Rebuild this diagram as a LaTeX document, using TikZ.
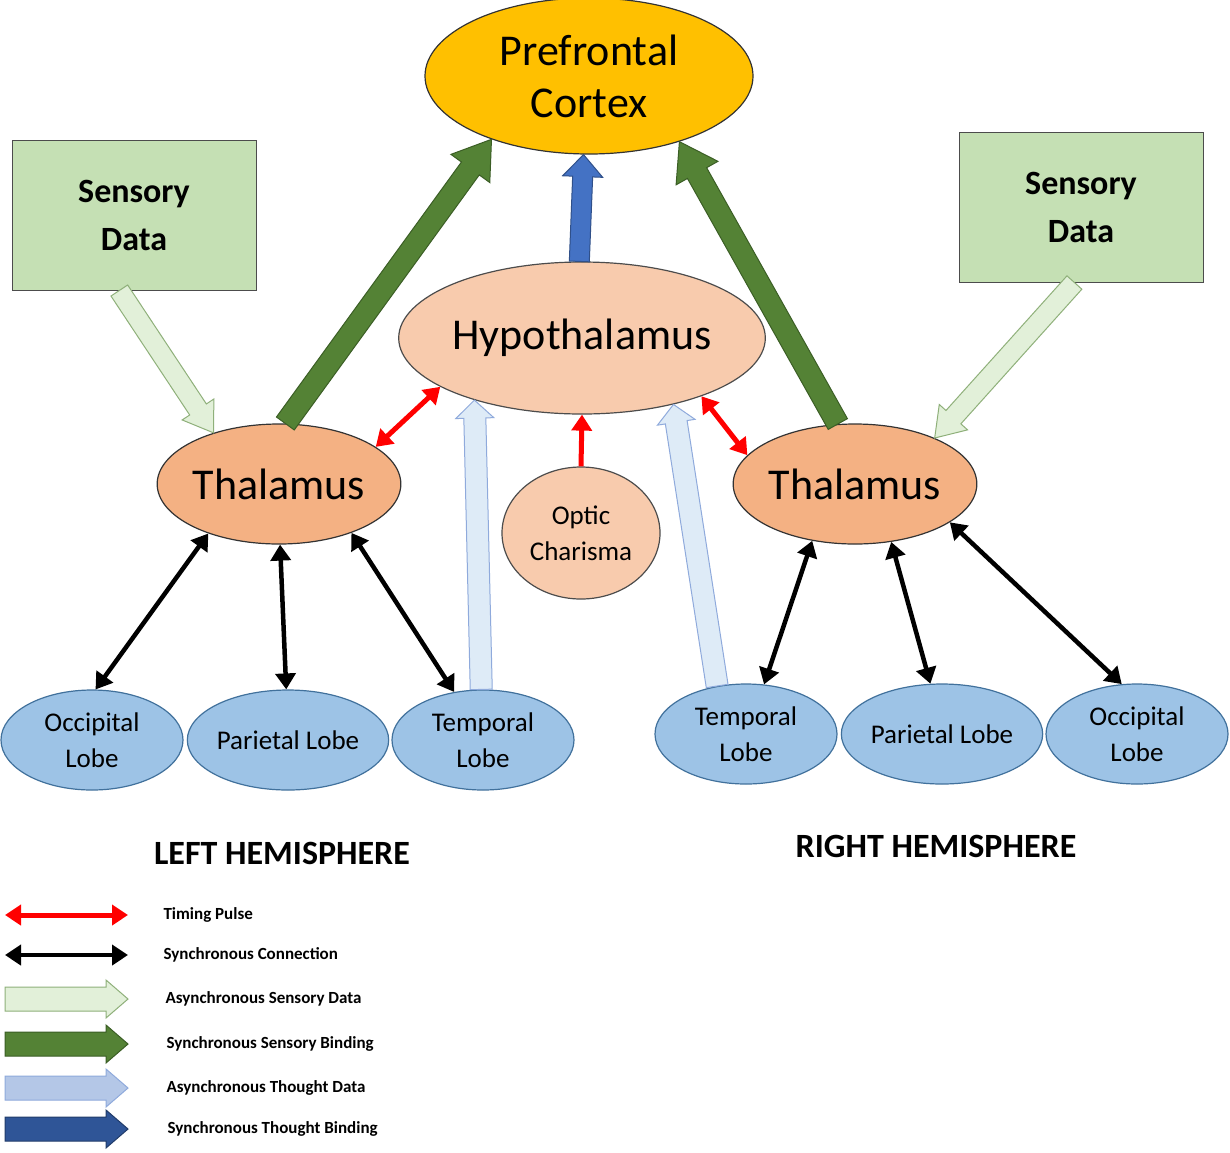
\documentclass[tikz,border=0pt]{standalone}
\usepackage{fontspec}
\setmainfont{Carlito}
\usetikzlibrary{shapes.geometric,arrows.meta,calc}
\definecolor{pfcF}{HTML}{FFC000}
\definecolor{hypF}{HTML}{F8CBAD}
\definecolor{thF}{HTML}{F4B183}
\definecolor{lobeF}{HTML}{9DC3E6}
\definecolor{lobeD}{HTML}{41719C}
\definecolor{sdF}{HTML}{C5E0B4}
\definecolor{dgF}{HTML}{548235}
\definecolor{dgD}{HTML}{3B5E25}
\definecolor{lgF}{HTML}{E2F0D9}
\definecolor{lgD}{HTML}{8FB07A}
\definecolor{lbF}{HTML}{DEEBF7}
\definecolor{lbD}{HTML}{8FAADC}
\definecolor{lb2F}{HTML}{B4C7E7}
\definecolor{bF}{HTML}{4472C4}
\definecolor{dbF}{HTML}{2F5597}
\newcommand\blkarrow[6]{%
\path let \p1=($(#3)-(#2)$), \n1={atan2(\y1,\x1)}, \p2=($(#3)!#6!(#2)$) in [#1]
 ($(#2)+(\n1+90:#4)$) -- ($(\p2)+(\n1+90:#4)$) -- ($(\p2)+(\n1+90:#5)$) -- (#3) -- ($(\p2)+(\n1-90:#5)$) -- ($(\p2)+(\n1-90:#4)$) -- ($(#2)+(\n1-90:#4)$) -- cycle;}
\tikzset{
 ell/.style={ellipse,inner sep=0pt,align=center,line width=1.2pt},
 big/.style={font=\fontsize{44}{52}\selectfont},
 lobe/.style={ell,fill=lobeF,draw=lobeD,minimum width=182pt,minimum height=100pt,font=\fontsize{27}{36}\selectfont},
 sd/.style={draw=black!70,line width=1pt,fill=sdF,minimum width=244pt,minimum height=150pt,align=center,font=\bfseries\fontsize{34}{48}\selectfont},
 hemi/.style={font=\bfseries\fontsize{34}{40}\selectfont},
 leg/.style={anchor=west,font=\bfseries\fontsize{17}{20}\selectfont},
 red2/.style={{Triangle[length=16pt,width=20pt]}-{Triangle[length=16pt,width=20pt]},red,line width=5pt},
 blk2/.style={{Triangle[length=16pt,width=20pt]}-{Triangle[length=16pt,width=20pt]},black,line width=4.5pt},
 dg/.style={fill=dgF,draw=dgD,line width=1pt},
 lg/.style={fill=lgF,draw=lgD,line width=1pt},
 lb/.style={fill=lbF,draw=lbD,line width=1pt},
 lb2/.style={fill=lb2F,draw=lbD,line width=1pt},
 bb/.style={fill=bF,draw=bF!70!black,line width=1pt},
 db/.style={fill=dbF,draw=dbF!70!black,line width=1pt},
}
\begin{document}
\begin{tikzpicture}[x=1pt,y=-1pt]
\useasboundingbox[fill=white] (0,0) rectangle (1230,1152);
\node[ell,big,fill=pfcF,draw=black!80,minimum width=328pt,minimum height=156pt] (pfc) at (589,76) {Prefrontal\\Cortex};
\node[ell,big,fill=hypF,draw=black!70,minimum width=332pt,minimum height=152pt] (hyp) at (582,338) {Hypothalamus};
\node[ell,big,fill=thF,draw=black!80,minimum width=228pt,minimum height=120pt] (thl) at (279,484) {Thalamus};
\node[ell,big,fill=thF,draw=black!80,minimum width=228pt,minimum height=120pt] (thr) at (855,484) {Thalamus};
\node[ell,fill=hypF,draw=black!70,minimum width=158pt,minimum height=132pt,font=\fontsize{27}{36}\selectfont] (opt) at (581,533) {Optic\\Charisma};
\node[lobe] (occL) at (92,740) {Occipital\\Lobe};
\node[lobe] (parL) at (288,740) {Parietal Lobe};
\node[lobe] (temL) at (483,740) {Temporal\\Lobe};
\node[lobe] (temR) at (746,734) {Temporal\\Lobe};
\node[lobe] (parR) at (942,734) {Parietal Lobe};
\node[lobe] (occR) at (1137,734) {Occipital\\Lobe};
\node[sd] (sdl) at (134,215) {Sensory\\Data};
\node[sd] (sdr) at (1081,207) {Sensory\\Data};
\node[hemi] (lh) at (282,853) {LEFT HEMISPHERE};
\node[hemi] (rh) at (936,846) {RIGHT HEMISPHERE};
% block arrows
\blkarrow{dg}{thl.84}{pfc.213}{11pt}{24pt}{36pt}
\blkarrow{dg}{thr.106}{pfc.324}{11pt}{24pt}{36pt}
\blkarrow{bb}{hyp.92}{pfc.266}{10pt}{20pt}{22pt}
\blkarrow{lg}{sdl.259}{thl.142}{10pt}{19pt}{28pt}
\blkarrow{lg}{sdr.265}{thr.30}{10pt}{19pt}{28pt}
\blkarrow{lb}{temL.92}{hyp.210}{11pt}{19pt}{18pt}
\blkarrow{lb}{temR.121}{hyp.324}{11pt}{19pt}{18pt}
% red
\draw[red2] (thl.21) -- (hyp.199);
\draw[red2] (hyp.334) -- (thr.165);
\draw[red,line width=5pt,-{Triangle[length=16pt,width=20pt]}] (opt.north) -- (hyp.south);
% black
\draw[blk2] (thl.215) -- (occL.86);
\draw[blk2] (thl.271) -- (parL.92);
\draw[blk2] (thl.326) -- (temL.121);
\draw[blk2] (thr.233) -- (temR.70);
\draw[blk2] (thr.302) -- (parR.103);
\draw[blk2] (thr.338) -- (occR.107);
% legend
\foreach \n/\y in {1/915,2/955,3/999,4/1044,5/1088,6/1129}{
 \coordinate (ls\n) at (5,\y); \coordinate (le\n) at (128,\y);}
\draw[red2] (ls1) -- (le1);
\draw[blk2] (ls2) -- (le2);
\blkarrow{lg}{ls3}{le3}{12pt}{19pt}{22pt}
\blkarrow{dg}{ls4}{le4}{12pt}{19pt}{22pt}
\blkarrow{lb2}{ls5}{le5}{12pt}{19pt}{22pt}
\blkarrow{db}{ls6}{le6}{12pt}{19pt}{22pt}
\node[leg] (t1) at (160,915) {Timing Pulse};
\node[leg] (t2) at (160,955) {Synchronous Connection};
\node[leg] (t3) at (162,999) {Asynchronous Sensory Data};
\node[leg] (t4) at (163,1044) {Synchronous Sensory Binding};
\node[leg] (t5) at (163,1088) {Asynchronous Thought Data};
\node[leg] (t6) at (164,1129) {Synchronous Thought Binding};
\end{tikzpicture}
\end{document}
